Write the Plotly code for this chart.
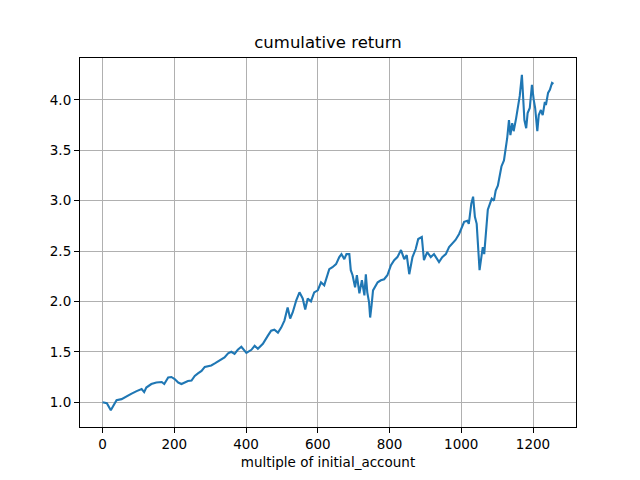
import plotly.graph_objects as go

# points (step index, cumulative multiple)
steps = [0, 12, 23, 32, 39, 53, 67, 81, 95, 109,
         116, 122, 136, 150, 165, 172, 183, 192, 201, 211,
         220, 229, 238, 248, 257, 266, 276, 285, 294, 303,
         313, 322, 331, 340, 350, 359, 368, 377, 387, 401,
         415, 424, 433, 447, 461, 470, 479, 489, 498, 507,
         516, 523, 530, 540, 549, 558, 565, 572, 581, 590,
         600, 609, 618, 623, 632, 641, 651, 660, 666, 674,
         680, 688, 692, 697, 704, 709, 716, 723, 730, 734,
         738, 743, 746, 750, 754, 767, 776, 785, 794, 804,
         813, 822, 832, 841, 848, 855, 864, 873, 880, 890,
         896, 905, 915, 924, 938, 947, 957, 966, 975, 984,
         994, 1008, 1017, 1021, 1028, 1033, 1038, 1043, 1047, 1051,
         1056, 1060, 1064, 1069, 1074, 1080, 1085, 1091, 1096, 1102,
         1108, 1112, 1119, 1123, 1128, 1133, 1137, 1142, 1146, 1153,
         1158, 1163, 1169, 1172, 1176, 1181, 1185, 1191, 1197, 1202,
         1206, 1212, 1216, 1222, 1227, 1233, 1236, 1242, 1247, 1253,
         1257]

cum_return = [1.00, 0.99, 0.92, 0.98, 1.02, 1.03, 1.06, 1.085, 1.11, 1.13,
              1.10, 1.145, 1.18, 1.195, 1.20, 1.18, 1.245, 1.25, 1.23, 1.195,
              1.18, 1.195, 1.21, 1.215, 1.26, 1.285, 1.31, 1.35, 1.36, 1.365,
              1.385, 1.405, 1.43, 1.445, 1.485, 1.50, 1.48, 1.52, 1.55, 1.49,
              1.52, 1.56, 1.53, 1.58, 1.66, 1.71, 1.72, 1.69, 1.74, 1.81,
              1.94, 1.83, 1.89, 2.01, 2.09, 2.03, 1.92, 2.03, 2.00, 2.09,
              2.11, 2.19, 2.16, 2.22, 2.32, 2.34, 2.37, 2.44, 2.47, 2.42,
              2.47, 2.47, 2.31, 2.26, 2.14, 2.26, 2.08, 2.21, 2.06, 2.27,
              2.09, 1.99, 1.84, 1.96, 2.11, 2.19, 2.21, 2.22, 2.26, 2.36,
              2.41, 2.44, 2.51, 2.42, 2.46, 2.27, 2.44, 2.52, 2.62, 2.64,
              2.41, 2.49, 2.44, 2.47, 2.39, 2.44, 2.47, 2.54, 2.57, 2.61,
              2.67, 2.79, 2.80, 2.77, 2.97, 3.04, 2.84, 2.77, 2.54, 2.31,
              2.44, 2.54, 2.47, 2.67, 2.91, 2.97, 3.02, 3.00, 3.10, 3.15,
              3.25, 3.34, 3.40, 3.49, 3.62, 3.80, 3.65, 3.77, 3.69, 3.82,
              3.94, 4.04, 4.25, 4.07, 3.80, 3.72, 3.87, 3.92, 4.15, 4.00,
              3.92, 3.69, 3.85, 3.90, 3.85, 3.98, 3.95, 4.07, 4.10, 4.17,
              4.16]

x_ticks = [0, 200, 400, 600, 800, 1000, 1200]
y_ticks = [1.0, 1.5, 2.0, 2.5, 3.0, 3.5, 4.0]

# matplotlib style 5% margins
xspan = max(steps) - min(steps)
yspan = max(cum_return) - min(cum_return)
xr = [min(steps) - 0.05 * xspan, max(steps) + 0.05 * xspan]
yr = [min(cum_return) - 0.05 * yspan, max(cum_return) + 0.05 * yspan]

fig = go.Figure(go.Scatter(
    x=steps, y=cum_return, mode='lines',
    line=dict(color='#1f77b4', width=2.1),
))

axis_style = dict(
    automargin=False,
    showgrid=True, gridcolor='#b0b0b0', gridwidth=1.1,
    showline=True, linecolor='black', linewidth=1.1, mirror=True,
    ticks='outside', ticklen=5, tickwidth=1.1, tickcolor='black',
    zeroline=False,
    tickfont=dict(family='DejaVu Sans', size=13.5, color='black'),
)

fig.update_layout(
    width=640, height=480,
    paper_bgcolor='white', plot_bgcolor='white',
    margin=dict(l=80, r=64, t=57.6, b=52.8),
    showlegend=False,
    font=dict(family='DejaVu Sans', color='black'),
    title=dict(text='cumulative return', x=0.5, xref='paper', xanchor='center',
               y=1 - 42 / 480, yanchor='middle',
               font=dict(family='DejaVu Sans', size=16.5, color='black')),
    xaxis=dict(axis_style, range=xr, tickvals=x_ticks,
               title=dict(text='multiple of initial_account', standoff=6,
                          font=dict(family='DejaVu Sans', size=13.5, color='black'))),
    yaxis=dict(axis_style, range=yr, tickvals=y_ticks, tickformat='.1f'),
)

# drop the browser's default 8px body margin so the figure sits at the page corner
fig.write_html("out.html", config={'displayModeBar': False},
               post_script="document.body.style.margin='0';")
